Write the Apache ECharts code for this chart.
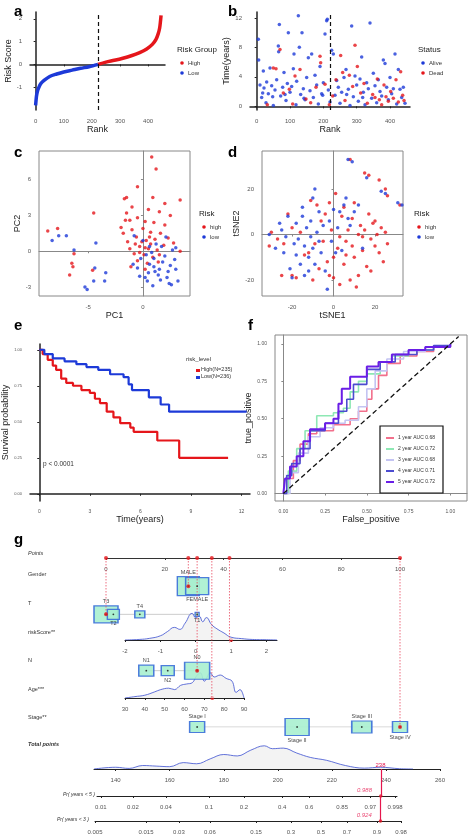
<!DOCTYPE html>
<html>
<head>
<meta charset="utf-8">
<script src="https://cdn.jsdelivr.net/npm/echarts@6/dist/echarts.min.js"></script>
<style>html,body{margin:0;padding:0;background:#fff}#chart{width:474px;height:835px}</style>
</head>
<body>
<div id="chart"></div>
<script>
var RED = '#e5161b', BLUE = '#1d3ad8';
// a: risk score curve
var riskLow = [[0,-1.8],[3,-1.4],[6,-1.2],[10,-1.05],[18,-0.85],[30,-0.7],[50,-0.53],[75,-0.42],[100,-0.33],[130,-0.25],[160,-0.17],[190,-0.1],[222,0]];
var riskHigh = [[222,0],[250,0.1],[280,0.18],[310,0.27],[340,0.38],[370,0.52],[395,0.68],[415,0.88],[428,1.1],[436,1.35],[441,1.6],[444,1.9],[446,2.15]];
// b: survival time by rank
var alive = [[5,9.1],[6,6.3],[10,2.9],[15,1.2],[20,4.8],[22,2.5],[28,0.5],[30,3.3],[35,1.7],[40,5.2],[45,2.8],[50,0.1],[55,2.2],[60,3.6],[65,8.2],[66,7.4],[68,11.1],[72,1.4],[78,2.6],[82,4.6],[88,0.8],[92,3.1],[95,10],[100,1.9],[105,2.7],[110,5.1],[112,7.1],[118,0.2],[120,3.4],[125,12.3],[128,8],[132,1.6],[136,10],[140,2.4],[145,0.9],[150,3.9],[155,6.6],[160,2.1],[165,7.1],[170,1.2],[175,4.2],[180,2.9],[185,0.3],[190,5.4],[195,1.7],[200,3.2],[205,9.8],[210,11.6],[212,11.8],[215,2.2],[220,0.6],[225,7.6],[230,7.1],[235,1.5],[240,3.5],[245,2.6],[250,0.4],[255,1.9],[262,3.9],[268,5],[275,2.3],[280,0.1],[285,10.9],[290,1.3],[295,4.1],[300,2.9],[305,0.7],[310,3.7],[315,6.7],[320,1.9],[325,0.2],[330,3.2],[335,2.4],[340,11.3],[345,1.1],[350,4.5],[355,2.8],[360,0.5],[365,3.6],[370,2],[375,1.4],[380,6.3],[385,5.8],[390,2.6],[395,0.9],[400,3.9],[405,1.7],[410,2.4],[415,7.1],[420,0.3],[425,5],[430,2.3],[435,1.2],[440,2.6],[445,0.4],[18,1.8],[48,1.3],[85,1.6],[142,1.1],[198,1.5],[270,1.6],[318,1.2]];
var dead = [[32,0.2],[50,5.2],[58,5.1],[70,7.7],[80,1.8],[98,2.3],[108,0.3],[115,4.1],[130,5],[148,1],[162,0.5],[178,2.6],[190,6.8],[192,5.9],[205,3],[218,0.2],[228,1.4],[238,3.6],[252,6.9],[258,4.6],[265,0.8],[278,4.2],[288,2.7],[295,8.3],[302,5.4],[312,1.8],[322,3.1],[332,0.4],[348,1.6],[355,1.2],[362,3.7],[368,0.9],[375,0.2],[382,2.9],[388,1.3],[395,0.7],[402,2],[410,1.1],[418,3.6],[425,0.6],[432,4.7],[438,1.5],[442,0.8]];
// c: PCA
var pcHigh = [[-8.7,1.7],[-7.8,1.9],[-6.3,-0.2],[-6.5,-1],[-6.4,-1.3],[-6.7,-2],[-4.6,-1.6],[-4.5,3.2],[0.8,7.9],[1.2,6.9],[-0.5,5.4],[-1.5,4.5],[-1.7,4.4],[0.9,4.5],[3.4,4.3],[2,4],[-1,3.7],[0.5,3.5],[1.5,3.3],[2.5,3],[-1.5,3.2],[-2,2],[-1.2,2.6],[-0.5,2.8],[0.2,2.5],[1,2.4],[2,2.2],[-1.8,1.5],[-1,1.8],[0,1.9],[0.7,1.6],[1.6,1.5],[2.3,1.1],[-1.4,0.8],[-0.6,1.2],[0.3,0.9],[1.1,1],[1.9,0.5],[-1.2,0.2],[-0.3,0.4],[0.5,0.2],[1.3,0.1],[-0.8,-0.2],[0.1,-0.3],[0.9,-0.5],[-0.5,-0.8],[0.4,-1],[1.4,-0.9],[-1.1,-1.3],[0.2,-1.5],[3.4,0],[-0.1,0.8],[0.6,1.2],[-0.3,-0.1],[1.5,-0.3],[-1.6,2.6],[2.8,0.7],[0.7,0.6],[-0.7,0.6],[0.2,0.3]];
var pcLow = [[-8.3,0.9],[-7.7,1.3],[-7,1.3],[-6.3,0.1],[-4.3,0.7],[-4.4,-1.4],[-3.4,-1.8],[-3.5,-2.5],[-4.5,-2.5],[-5.3,-3],[-5.1,-3.2],[0.3,-0.3],[1,-0.6],[1.8,-0.9],[2.5,-1.2],[3,-1.5],[0.5,-1.8],[1.4,-2],[2.2,-2.2],[3.2,-2.5],[2.4,-2.7],[-0.5,-1.4],[0.2,-2.2],[1,-1.3],[2,-0.4],[2.7,0.1],[3,0.3],[1.7,0.4],[0.8,-0.1],[-0.2,-0.6],[-0.9,-1.1],[0.6,-1.1],[1.5,-1.5],[2.3,-1.7],[2.9,-0.7],[1.2,0.6],[0,0.9],[-0.8,1.3],[0.4,-2.5],[1.6,-2.4],[2.1,1.2],[0.9,-2.9],[-0.3,-2.1],[2.6,-2.8],[1.1,-1.7],[0.6,0.4]];
// d: tSNE
var tsHigh = [[8,33],[15,27],[17,26],[22,24],[25,20],[26,17],[32,13],[-31,-5],[-30,1],[-27,-2],[-24,-4],[-22,9],[-20,-18],[-18,-19],[-20,3],[-16,1],[-12,-8],[-10,-20],[-8,13],[-6,6],[-5,-3],[-3,-12],[-2,-18],[0,-19],[1,18],[2,-6],[3,-1],[4,8],[5,-13],[6,-3],[7,2],[8,-20],[9,7],[10,-10],[11,-23],[12,0],[13,4],[14,-7],[15,2],[16,-14],[17,9],[18,-2],[19,5],[20,-5],[21,0],[22,-8],[23,3],[24,-12],[25,1],[26,-4],[-14,-9],[-9,-4],[-1,2],[5,12],[10,14],[-4,9],[-7,-15],[0,-10],[3,-22],[12,-18],[18,-16],[-25,-18],[-2,14],[6,-9],[14,-1],[20,6],[9,-5],[-11,15]];
var tsLow = [[7,33],[9,32],[16,25],[23,19],[25,18],[31,14],[33,13],[-9,20],[-31,0],[-28,-6],[-26,5],[-24,-8],[-22,8],[-21,-15],[-20,-19],[-18,5],[-17,-2],[-16,-13],[-15,8],[-14,-5],[-13,3],[-12,-10],[-11,6],[-10,-6],[-9,-13],[-8,1],[-7,10],[-6,-8],[-5,4],[-4,-16],[-3,-24],[-2,6],[-1,-3],[0,11],[2,3],[3,10],[4,-7],[5,13],[6,16],[8,4],[10,10],[12,13],[14,-6],[-19,-4],[-23,-1],[-14,-18],[-11,-1],[-7,-3],[-15,12],[-10,16],[1,-8],[7,7],[-18,-9],[-25,2],[-12,-16]];
// e: Kaplan-Meier
var kmHigh = [[0,1],[0.2,0.97],[0.5,0.93],[0.8,0.89],[1,0.86],[1.3,0.8],[1.6,0.77],[2,0.75],[2.5,0.72],[3,0.7],[3.3,0.66],[3.6,0.63],[4,0.57],[4.4,0.53],[4.8,0.49],[5.4,0.46],[5.6,0.43],[7,0.37],[8.3,0.25],[11.2,0.25]];
var kmLow = [[0,1],[0.3,0.97],[0.8,0.94],[1.5,0.92],[2.2,0.9],[2.8,0.88],[3.5,0.86],[4.2,0.83],[5,0.81],[5.3,0.76],[5.5,0.72],[6.5,0.67],[7.2,0.62],[7.7,0.57],[12.3,0.57]];
// f: ROC
var roc1 = [[0,0],[0.03,0.1],[0.06,0.22],[0.1,0.33],[0.15,0.4],[0.2,0.42],[0.3,0.46],[0.4,0.5],[0.45,0.55],[0.5,0.63],[0.53,0.7],[0.57,0.79],[0.62,0.87],[0.7,0.92],[0.8,0.95],[0.9,0.98],[1,1]];
var roc2 = [[0,0],[0.03,0.15],[0.08,0.3],[0.13,0.42],[0.2,0.52],[0.3,0.54],[0.36,0.57],[0.4,0.68],[0.45,0.75],[0.5,0.8],[0.58,0.88],[0.65,0.92],[0.75,0.96],[0.9,0.98],[1,1]];
var roc3 = [[0,0],[0.04,0.14],[0.09,0.27],[0.15,0.38],[0.22,0.44],[0.3,0.47],[0.37,0.49],[0.45,0.58],[0.5,0.7],[0.55,0.82],[0.62,0.9],[0.72,0.95],[0.85,0.98],[1,1]];
var roc4 = [[0,0],[0.02,0.12],[0.05,0.2],[0.1,0.3],[0.16,0.42],[0.25,0.47],[0.33,0.55],[0.38,0.63],[0.42,0.73],[0.5,0.83],[0.58,0.88],[0.67,0.93],[0.8,0.96],[0.9,0.99],[1,1]];
var roc5 = [[0,0],[0.01,0.1],[0.04,0.18],[0.08,0.25],[0.12,0.35],[0.16,0.43],[0.25,0.47],[0.3,0.5],[0.33,0.6],[0.35,0.7],[0.4,0.78],[0.5,0.85],[0.57,0.88],[0.65,0.93],[0.75,0.96],[0.85,0.98],[1,1]];
var rocNames = ['1 year AUC 0.68','2 year AUC 0.72','3 year AUC 0.68','4 year AUC 0.71','5 year AUC 0.72'];
var rocColors = ['#f2708c','#8ee8b4','#c4c4f2','#4c4cd0','#6a1ee6'];
// g: nomogram
var rowNames = ['Points','Gender','T','riskScore**','N','Age***','Stage**'];
var pointTicks = [0,20,40,60,80,100];
var boxes = [ // [points, row, width, height, label, labelPos]
  [28,1,22,19,'MALE','top'],[31,1,23,17,'FEMALE','bottom'],
  [0,2,24,17,'T3','top'],[2.5,2,12,10,'T2','bottom'],[11.5,2,10,7,'T4','top'],[31,2,4,4,'T1','bottom'],
  [13.7,4,15,11,'N1','top'],[21,4,13,10,'N2','bottom'],[31,4,25,17,'N0','top'],
  [31,6,15,11,'Stage I','top'],[65,6,24,17,'Stage II','bottom'],[87,6,20,12,'Stage III','top'],[100,6,15,11,'Stage IV','bottom']];
var connectors = [[1,28,31],[2,0,31],[4,13.7,31],[6,31,100]];
var chosen = [[0,2],[28,1],[31,4],[36,5],[42,3],[100,6]];
var rsDensity = [[-2,0],[-1.6,0.02],[-1.3,0.06],[-1,0.15],[-0.8,0.3],[-0.6,0.45],[-0.45,0.38],[-0.3,0.6],[-0.1,0.95],[0,0.8],[0.1,0.85],[0.2,0.65],[0.3,0.8],[0.45,0.55],[0.6,0.4],[0.8,0.25],[1,0.1],[1.3,0.05],[1.6,0.02],[2,0.01],[2.3,0]];
var ageDensity = [[30,0],[35,0.05],[40,0.1],[45,0.22],[48,0.3],[52,0.35],[55,0.3],[58,0.45],[61,0.5],[64,0.55],[66,0.78],[68,0.9],[70,0.6],[73,0.9],[75,0.75],[78,0.82],[81,0.7],[84,0.6],[86,0.2],[88,0.3],[90,0]];
var totalDensity = [[132,0],[140,0.06],[145,0.02],[150,0.12],[155,0.1],[160,0.08],[165,0.22],[170,0.18],[175,0.35],[180,0.5],[185,0.45],[190,0.65],[195,0.8],[198,0.7],[202,0.72],[207,0.55],[212,0.4],[218,0.3],[225,0.12],[232,0.03],[238,0.06],[245,0.01],[250,0]];
var totalTicks = [140,160,180,200,220,240,260];
var pr5Labels = ['0.01','0.02','0.04','0.1','0.2','0.4','0.6','0.85','0.97','0.998'];
var pr5Pos = [134.4,146.3,158.5,174.4,187.4,201.5,211.5,223.7,234.1,243.3];
var pr3Labels = ['0.005','0.015','0.03','0.06','0.15','0.3','0.5','0.7','0.9','0.98'];
var pr3Pos = [132.2,151.1,163.3,174.8,191.9,204.8,215.9,225.6,236.7,245.6];
var totalScore = 238, pr5Value = '0.988', pr3Value = '0.924';

var chart = echarts.init(document.getElementById('chart'));
var tick = {fontSize: 6, color: '#555'};
var nameStyle = {fontSize: 9, color: '#222'};
function axisBase(o) {
  return Object.assign({type: 'value', splitLine: {show: false}, axisLine: {show: true, lineStyle: {color: '#222'}},
    axisTick: {show: true, length: 2, lineStyle: {color: '#222'}}, axisLabel: tick, nameTextStyle: nameStyle}, o);
}
var grids = [], xAxes = [], yAxes = [], series = [];
function addGrid(g, x, y) {
  grids.push(g); x.gridIndex = grids.length - 1; y.gridIndex = grids.length - 1;
  xAxes.push(x); yAxes.push(y); return grids.length - 1;
}
function s(o, gi) { o.xAxisIndex = gi; o.yAxisIndex = gi; series.push(o); }

// a
var ga = addGrid({left: 30, top: 12, width: 135, height: 98},
  axisBase({min: -20, max: 460, interval: 100, customValues: null, name: 'Rank', nameLocation: 'middle', nameGap: 10,
    axisLabel: {fontSize: 6, color: '#555', customValues: [0,100,200,300,400]}, axisTick: {length: 2, customValues: [0,100,200,300,400]}, axisLine: {lineStyle: {color: '#222', width: 1.5}}}),
  axisBase({min: -2, max: 2.3, name: 'Risk Score', nameLocation: 'middle', nameGap: 14,
    axisLabel: {fontSize: 6, color: '#555', customValues: [-1,0,1,2]}, axisTick: {length: 2, customValues: [-1,0,1,2]}, axisLine: {lineStyle: {color: '#222', width: 1.5}}}));
s({type: 'line', data: riskLow, showSymbol: false, lineStyle: {color: BLUE, width: 3.5}, smooth: 0.3}, ga);
s({type: 'line', data: riskHigh, showSymbol: false, lineStyle: {color: RED, width: 3.5}, smooth: 0.3,
  markLine: {silent: true, symbol: 'none', label: {show: false}, lineStyle: {color: '#111', type: [4, 3], width: 1.2}, data: [{xAxis: 222}]}}, ga);

// b
var gb = addGrid({left: 250, top: 12, width: 160, height: 98},
  axisBase({min: -20, max: 460, name: 'Rank', nameLocation: 'middle', nameGap: 10,
    axisLabel: {fontSize: 6, color: '#555', customValues: [0,100,200,300,400]}, axisTick: {length: 2, customValues: [0,100,200,300,400]}, axisLine: {lineStyle: {color: '#222', width: 1.5}}}),
  axisBase({min: -0.5, max: 12.8, name: 'Time(years)', nameLocation: 'middle', nameGap: 11,
    axisLabel: {fontSize: 6, color: '#555', customValues: [0,4,8,12]}, axisTick: {length: 2, customValues: [0,4,8,12]}, axisLine: {lineStyle: {color: '#222', width: 1.5}}}));
s({type: 'scatter', data: alive, symbolSize: 3.5, itemStyle: {color: BLUE}}, gb);
s({type: 'scatter', data: dead, symbolSize: 3.5, itemStyle: {color: RED},
  markLine: {silent: true, symbol: 'none', label: {show: false}, lineStyle: {color: '#111', type: [4, 3], width: 1.2}, data: [{xAxis: 222}]}}, gb);

// c
var boxed = {show: true, lineStyle: {color: '#888', width: 1}};
var gc = addGrid({left: 39, top: 151, width: 151, height: 145, show: true, borderColor: '#888', borderWidth: 1},
  axisBase({min: -9.5, max: 4.3, name: 'PC1', nameLocation: 'middle', nameGap: 12, axisLine: boxed,
    axisLabel: {fontSize: 6, color: '#555', customValues: [-5,0]}, axisTick: {length: 2, customValues: [-5,0]}}),
  axisBase({min: -3.75, max: 8.4, name: 'PC2', nameLocation: 'middle', nameGap: 12, axisLine: boxed,
    axisLabel: {fontSize: 6, color: '#555', customValues: [-3,0,3,6]}, axisTick: {length: 2, customValues: [-3,0,3,6]}}));
s({type: 'scatter', data: pcHigh, symbolSize: 3.5, itemStyle: {color: RED}}, gc);
s({type: 'scatter', data: pcLow, symbolSize: 3.5, itemStyle: {color: BLUE}}, gc);

// d
var gd = addGrid({left: 262, top: 151, width: 141, height: 145, show: true, borderColor: '#888', borderWidth: 1},
  axisBase({min: -34.5, max: 33.5, name: 'tSNE1', nameLocation: 'middle', nameGap: 12, axisLine: boxed,
    axisLabel: {fontSize: 6, color: '#555', customValues: [-20,0,20]}, axisTick: {length: 2, customValues: [-20,0,20]}}),
  axisBase({min: -27, max: 36.7, name: 'tSNE2', nameLocation: 'middle', nameGap: 12, axisLine: boxed,
    axisLabel: {fontSize: 6, color: '#555', customValues: [-20,0,20]}, axisTick: {length: 2, customValues: [-20,0,20]}}));
s({type: 'scatter', data: tsHigh, symbolSize: 3.5, itemStyle: {color: RED}}, gd);
s({type: 'scatter', data: tsLow, symbolSize: 3.5, itemStyle: {color: BLUE}}, gd);

// e
var ge = addGrid({left: 30, top: 344, width: 220, height: 157},
  axisBase({min: -0.55, max: 12.5, name: 'Time(years)', nameLocation: 'middle', nameGap: 12,
    axisLabel: {fontSize: 5, color: '#555', customValues: [0,3,6,9,12]}, axisTick: {length: 2, customValues: [0,3,6,9,12]}, axisLine: {lineStyle: {color: '#222', width: 1.5}}}),
  axisBase({min: -0.05, max: 1.04, name: 'Survival probability', nameLocation: 'middle', nameGap: 18,
    axisLabel: {fontSize: 4, color: '#555', customValues: [0,0.25,0.5,0.75,1], formatter: function (v) { return v.toFixed(2); }},
    axisTick: {length: 2, customValues: [0,0.25,0.5,0.75,1]}, axisLine: {lineStyle: {color: '#222', width: 1.5}}}));
s({type: 'line', step: 'end', data: kmHigh, showSymbol: false, lineStyle: {color: RED, width: 2.2}}, ge);
s({type: 'line', step: 'end', data: kmLow, showSymbol: false, lineStyle: {color: BLUE, width: 2.2}}, ge);

// f
var gf = addGrid({left: 275, top: 335, width: 192, height: 166, show: true, borderColor: '#888', borderWidth: 1},
  axisBase({min: -0.05, max: 1.1, name: 'False_positive', nameLocation: 'middle', nameGap: 10, axisLine: boxed,
    axisLabel: {fontSize: 5, color: '#555', customValues: [0,0.25,0.5,0.75,1], formatter: function (v) { return v.toFixed(2); }},
    axisTick: {length: 2, customValues: [0,0.25,0.5,0.75,1]}}),
  axisBase({min: -0.05, max: 1.06, name: 'true_positive', nameLocation: 'middle', nameGap: 18, axisLine: boxed,
    axisLabel: {fontSize: 5, color: '#555', customValues: [0,0.25,0.5,0.75,1], formatter: function (v) { return v.toFixed(2); }},
    axisTick: {length: 2, customValues: [0,0.25,0.5,0.75,1]}}));
[roc1, roc2, roc3, roc4, roc5].forEach(function (d, i) {
  s({type: 'line', name: rocNames[i], step: 'end', data: d, showSymbol: false, lineStyle: {color: rocColors[i], width: i === 4 ? 2 : 1.6}}, gf);
});
s({type: 'line', data: [[0, 0], [1.05, 1.05]], showSymbol: false, lineStyle: {color: '#111', type: [5, 3], width: 1.3}}, gf);

// g: nomogram main rows
var gn = addGrid({left: 106, top: 558, width: 294, height: 169},
  axisBase({min: 0, max: 100, position: 'top', axisLabel: {fontSize: 6, color: '#555', inside: true, customValues: pointTicks},
    axisTick: {length: 2, inside: true, customValues: pointTicks}, axisLine: {lineStyle: {color: '#333'}}}),
  {type: 'value', min: 0, max: 6, inverse: true, show: false});
connectors.forEach(function (c) {
  s({type: 'line', data: [[c[1], c[0]], [c[2], c[0]]], showSymbol: false, lineStyle: {color: '#ccc', width: 1}, z: 1}, gn);
});
chosen.forEach(function (c) {
  s({type: 'line', data: [[c[0], 0], [c[0], c[1]]], showSymbol: false, lineStyle: {color: '#e84a5f', type: [1.5, 1.5], width: 0.8}, z: 5}, gn);
});
boxes.forEach(function (b) {
  s({type: 'scatter', data: [[b[0], b[1]]], symbol: 'rect', symbolSize: [b[2], b[3]], z: 3,
    itemStyle: {color: '#a9f0cf', borderColor: '#3b6fd9', borderWidth: 1.3, opacity: 0.9},
    label: {show: true, formatter: b[4], position: b[5], distance: 1, fontSize: 5.5, color: '#333'}}, gn);
});
s({type: 'scatter', data: boxes.map(function (b) { return [b[0], b[1]]; }), symbolSize: 1.8, itemStyle: {color: '#111'}, z: 6}, gn);
s({type: 'scatter', data: chosen.map(function (c) { return [c[0], 0]; }).concat([[28, 1], [0, 2], [31, 4], [100, 6]]),
  symbolSize: 4, itemStyle: {color: RED}, z: 7}, gn);

// riskScore axis
var grs = addGrid({left: 125, top: 612, width: 152, height: 28},
  axisBase({min: -2, max: 2.3, axisLabel: {fontSize: 6, color: '#555', customValues: [-2,-1,0,1,2]}, axisTick: {length: 2, customValues: [-2,-1,0,1,2]}}),
  {type: 'value', min: 0, max: 1, show: false});
s({type: 'line', data: rsDensity, showSymbol: false, smooth: true, lineStyle: {color: '#3b4fd0', width: 0.8}, areaStyle: {color: '#eee'}}, grs);
s({type: 'scatter', data: [[1, 0]], symbolSize: 4, itemStyle: {color: RED}}, grs);
// age axis
var gag = addGrid({left: 125, top: 670, width: 119, height: 28},
  axisBase({min: 30, max: 90, axisLabel: {fontSize: 6, color: '#555', customValues: [30,40,50,60,70,80,90]}, axisTick: {length: 2, customValues: [30,40,50,60,70,80,90]}}),
  {type: 'value', min: 0, max: 1, show: false});
s({type: 'line', data: ageDensity, showSymbol: false, smooth: 0.4, lineStyle: {color: '#3b4fd0', width: 0.8}, areaStyle: {color: '#eee'}}, gag);
s({type: 'scatter', data: [[74, 0]], symbolSize: 4, itemStyle: {color: RED}}, gag);
// total points
var gt = addGrid({left: 94, top: 740, width: 346, height: 29},
  axisBase({min: 132, max: 260, axisLabel: {fontSize: 6, color: '#555', customValues: totalTicks}, axisTick: {length: 2, customValues: totalTicks}}),
  {type: 'value', min: 0, max: 1, show: false});
s({type: 'line', data: totalDensity, showSymbol: false, smooth: 0.4, lineStyle: {color: '#3b4fd0', width: 0.8}, areaStyle: {color: '#eee'},
  markPoint: {symbol: 'circle', symbolSize: 0.1, label: {show: true, formatter: String(totalScore), color: '#e5164d', fontSize: 6, offset: [0, -4]}, data: [{coord: [totalScore, 0]}]}}, gt);
function probGrid(top, height, left, width, lo, hi, pos, labels, val) {
  var gi = addGrid({left: left, top: top, width: width, height: height},
    axisBase({min: lo, max: hi, axisLabel: {fontSize: 6, color: '#555', customValues: pos,
      formatter: function (v) { var i = pos.indexOf(v); return i >= 0 ? labels[i] : ''; }}, axisTick: {length: 2, customValues: pos}}),
    {type: 'value', min: 0, max: 1, show: false});
  s({type: 'scatter', data: [[totalScore, 0]], symbolSize: 3.5, itemStyle: {color: RED},
    label: {show: true, formatter: val, position: 'left', offset: [-2, -6], color: '#e5164d', fontSize: 6, fontStyle: 'italic'},
    markLine: {silent: true, symbol: 'none', label: {show: false}, lineStyle: {color: '#e5164d', type: 'solid', width: 1.2}, data: [{xAxis: totalScore}]}}, gi);
}
probGrid(769, 27, 97, 300, 133, 244, pr5Pos, pr5Labels, pr5Value);
probGrid(796, 25, 95, 306, 132.2, 245.6, pr3Pos, pr3Labels, pr3Value);

// text and legends
var graphics = [];
function txt(x, y, t, st) { graphics.push({type: 'text', left: x, top: y, style: Object.assign({text: t, fontSize: 6, fill: '#333', fontFamily: 'Liberation Sans'}, st)}); }
[['a', 14, 4], ['b', 228, 4], ['c', 14, 145], ['d', 228, 145], ['e', 14, 318], ['f', 248, 318], ['g', 14, 532]].forEach(function (p) {
  txt(p[1], p[2], p[0], {fontSize: 15, fontWeight: 'bold', fill: '#000'});
});
function legend(x, y, title, items, gap) {
  txt(x, y, title, {fontSize: 8, fill: '#222'});
  items.forEach(function (it, i) {
    graphics.push({type: 'circle', shape: {cx: x + 5, cy: y + 17 + i * gap, r: 1.8}, style: {fill: it[1]}});
    txt(x + 11, y + 14 + i * gap, it[0], {fontSize: 6});
  });
}
legend(177, 46, 'Risk Group', [['High', RED], ['Low', BLUE]], 10);
legend(418, 46, 'Status', [['Alive', BLUE], ['Dead', RED]], 10);
legend(199, 210, 'Risk', [['high', RED], ['low', BLUE]], 10);
legend(414, 210, 'Risk', [['high', RED], ['low', BLUE]], 10);
txt(186, 356, 'risk_level', {fontSize: 6});
[['High(N=235)', RED], ['Low(N=236)', BLUE]].forEach(function (it, i) {
  graphics.push({type: 'rect', shape: {x: 196, y: 369 + i * 7, width: 4, height: 3}, style: {fill: it[1]}});
  txt(201, 366 + i * 7, it[0], {fontSize: 5.5});
});
txt(43, 461, 'p < 0.0001', {fontSize: 6.5});
graphics.push({type: 'rect', shape: {x: 380, y: 426, width: 63, height: 67}, style: {fill: '#fff', stroke: '#111', lineWidth: 1.2}, z: 10});
rocNames.forEach(function (n, i) {
  graphics.push({type: 'line', shape: {x1: 386, y1: 438 + i * 11, x2: 394, y2: 438 + i * 11}, style: {stroke: rocColors[i], lineWidth: 2}, z: 11});
  graphics.push({type: 'text', left: 398, top: 435 + i * 11, z: 11, style: {text: n, fontSize: 5, fill: '#333'}});
});
var rowY = [550, 571, 600, 629, 657, 686, 714];
rowNames.forEach(function (n, i) { txt(28, rowY[i], n, {fontSize: 5.5, fontStyle: i === 0 ? 'italic' : 'normal'}); });
txt(28, 741, 'Total points', {fontSize: 5.5, fontStyle: 'italic', fontWeight: 'bold'});
txt(63, 792, 'Pr( years < 5 )', {fontSize: 5, fontStyle: 'italic'});
txt(57, 817, 'Pr( years < 3 )', {fontSize: 5, fontStyle: 'italic'});

chart.setOption({
  animation: false,
  textStyle: {fontFamily: 'Liberation Sans'},
  grid: grids, xAxis: xAxes, yAxis: yAxes, series: series, graphic: graphics
});
</script>
</body>
</html>
